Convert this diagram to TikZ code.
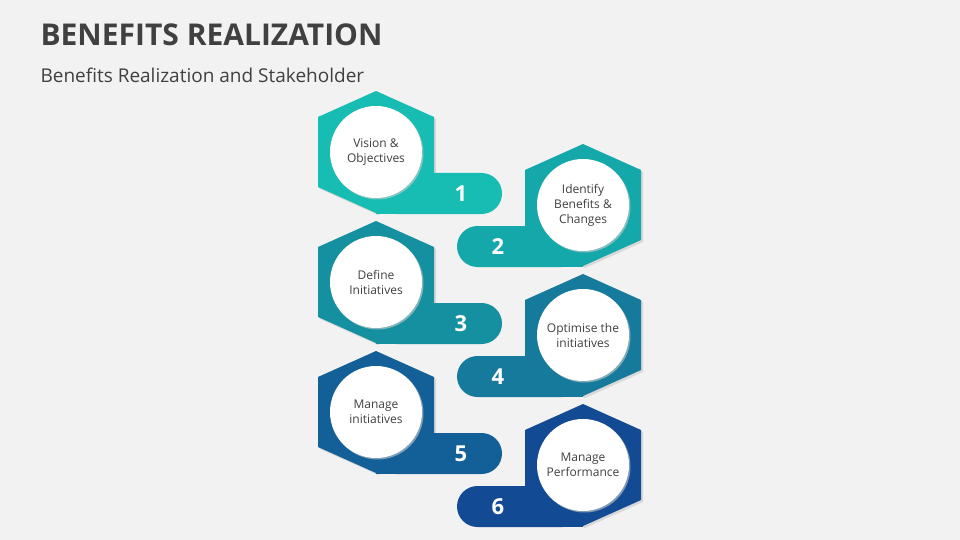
\documentclass[tikz,border=0pt]{standalone}
\usepackage{fontspec}
\setmainfont{Open Sans}
\begin{document}
\begin{tikzpicture}[x=1pt,y=-1pt,
 lbl/.style={font=\fontsize{12}{15}\selectfont,text=black!75,align=center},
 num/.style={font=\fontsize{22}{24}\selectfont\bfseries,text=white},
 disc/.style={fill=white,draw=none}]
\fill[black!5] (0,0) rectangle (960,540);
\useasboundingbox (0,0) rectangle (960,540);
\node[anchor=west,font=\fontsize{30}{34}\selectfont\bfseries,text=black!75] (t) at (37,35) {BENEFITS REALIZATION};
\node[anchor=west,font=\fontsize{19}{22}\selectfont,text=black!75] (s) at (37,75) {Benefits Realization and Stakeholder};
\definecolor{c1}{HTML}{17BCB2}\definecolor{c2}{HTML}{14A8AA}\definecolor{c3}{HTML}{1590A0}
\definecolor{c4}{HTML}{157A9C}\definecolor{c5}{HTML}{135F98}\definecolor{c6}{HTML}{124A94}
% left items: dir=1 (pill to right), right items: dir=-1
\foreach \cx/\cy/\d/\c/\n/\txt in {
 376/152/1/c1/1/{Vision \&\\Objectives},
 583/205/-1/c2/2/{Identify\\Benefits \&\\Changes},
 376/282/1/c3/3/{Define\\Initiatives},
 583/335/-1/c4/4/{Optimise the\\initiatives},
 376/412/1/c5/5/{Manage\\initiatives},
 583/465/-1/c6/6/{Manage\\Performance}}{
 \fill[black!25,opacity=0.5] (\cx+2,\cy-59) -- (\cx+60,\cy-33) -- (\cx+60,\cy+37) -- (\cx+2,\cy+63) -- (\cx-56,\cy+37) -- (\cx-56,\cy-33) -- cycle;
 \fill[\c] (\cx,\cy-61) -- (\cx+58,\cy-35) -- (\cx+58,\cy+35) -- (\cx,\cy+61) -- (\cx-58,\cy+35) -- (\cx-58,\cy-35) -- cycle;
 \fill[\c,rounded corners=20.5] (\cx,\cy+21) -- (\cx+\d*126,\cy+21) -- (\cx+\d*126,\cy+62) -- (\cx,\cy+62) -- cycle;
 \fill[\c] (\cx,\cy+21) rectangle (\cx+\d*80,\cy+62);
 \fill[black!20,opacity=0.6] (\cx+1.5,\cy+1.5) circle (46);
 \node[disc,circle,minimum size=92pt] (d\n) at (\cx,\cy) {};
 \node[lbl] (l\n) at (d\n) {\txt};
 \node[num] (n\n) at (\cx+\d*85,\cy+42) {\n};
}
\end{tikzpicture}
\end{document}
